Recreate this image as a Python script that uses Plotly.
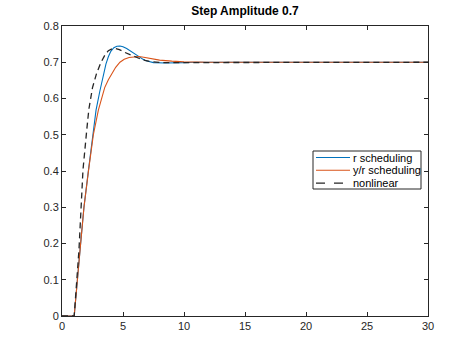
import plotly.graph_objects as go

# time points and series values
t_r = [0, 1, 1.5, 1.8, 2.18, 2.57, 2.79, 3.1, 3.4, 3.6, 3.8, 4.0, 4.25, 4.5, 4.75, 5.0, 5.3, 5.7, 6.0, 6.25, 6.6, 6.9, 7.5, 8.5, 10, 11, 30]
y_r = [0, 0, 0.19, 0.3, 0.405, 0.51, 0.568, 0.62, 0.665, 0.695, 0.715, 0.73, 0.74, 0.744, 0.745, 0.743, 0.738, 0.73, 0.723, 0.717, 0.709, 0.704, 0.699, 0.698, 0.699, 0.7, 0.7]

t_yr = [0, 1, 1.5, 1.8, 2.18, 2.57, 2.98, 3.25, 3.5, 3.8, 4.07, 4.4, 4.75, 5.1, 5.5, 5.9, 6.3, 6.7, 7.0, 7.5, 8.0, 9.0, 10, 12, 30]
y_yr = [0, 0, 0.19, 0.3, 0.403, 0.5, 0.568, 0.603, 0.63, 0.652, 0.668, 0.686, 0.70, 0.708, 0.713, 0.715, 0.716, 0.714, 0.712, 0.709, 0.706, 0.703, 0.701, 0.7, 0.7]

t_nl = [0, 1, 1.39, 1.72, 2.02, 2.2, 2.5, 2.84, 3.2, 3.52, 3.8, 4.1, 4.4, 4.7, 5.16, 5.7, 6.3, 6.8, 7.2, 8.3, 9.5, 11, 30]
y_nl = [0, 0, 0.182, 0.403, 0.51, 0.57, 0.63, 0.67, 0.70, 0.72, 0.732, 0.737, 0.738, 0.735, 0.727, 0.719, 0.711, 0.705, 0.702, 0.699, 0.699, 0.7, 0.7]

x_ticks = [0, 5, 10, 15, 20, 25, 30]
y_ticks = [0, 0.1, 0.2, 0.3, 0.4, 0.5, 0.6, 0.7, 0.8]

names = ["r scheduling", "y/r scheduling", "nonlinear"]
colors = ["#0072BD", "#D95319", "#262626"]
widths = [1.1, 1.1, 1.3]
dashes = ["solid", "solid", "6px,4px"]

fig = go.Figure()
for tx, ty, nm, c, w, d in zip([t_r, t_yr, t_nl], [y_r, y_yr, y_nl], names, colors, widths, dashes):
    fig.add_trace(go.Scatter(x=tx, y=ty, mode="lines", name=nm, showlegend=False,
                             line=dict(color=c, width=w, dash=d)))

axis_common = dict(showline=True, linecolor="#262626", linewidth=1, mirror="ticks",
                   ticks="inside", ticklen=4, tickcolor="#262626", showgrid=False,
                   zeroline=False, tickfont=dict(family="Liberation Sans, Arial", size=11, color="#262626"))

fig.update_xaxes(range=[0, 30], tickvals=x_ticks, **axis_common)
fig.update_yaxes(range=[0, 0.8], tickvals=y_ticks, **axis_common)

# custom MATLAB-like compact legend (pixel layout -> paper coords)
L, R, T, B = 62, 428, 26, 316
def px(xp):
    return (xp - L) / (R - L)
def py(yp):
    return (B - yp) / (B - T)

shapes = [dict(type="rect", xref="paper", yref="paper", x0=px(313), x1=px(421), y0=py(189), y1=py(151),
               line=dict(color="#262626", width=1), fillcolor="white", layer="above")]
annotations = []
for i, (nm, c, w, d) in enumerate(zip(names, colors, widths, dashes)):
    yy = 157.5 + 12.8 * i
    shapes.append(dict(type="line", xref="paper", yref="paper", x0=px(316), x1=px(350), y0=py(yy), y1=py(yy),
                       line=dict(color=c, width=w, dash=("dash" if d != "solid" else "solid")), layer="above"))
    annotations.append(dict(xref="paper", yref="paper", x=px(351), y=py(yy), text=nm, showarrow=False,
                            xanchor="left", yanchor="middle",
                            font=dict(family="Liberation Sans, Arial", size=11, color="#000000")))

fig.update_layout(
    width=474, height=355,
    margin=dict(l=62, r=46, t=26, b=39),
    paper_bgcolor="white", plot_bgcolor="white",
    title=dict(text="<b>Step Amplitude 0.7</b>", x=(62 + 428) / 2 / 474, xanchor="center",
               y=1 - 11 / 355, yanchor="middle",
               font=dict(family="Liberation Sans, Arial", size=12, color="#000000")),
    shapes=shapes, annotations=annotations,
    showlegend=False,
)

fig.write_html("out.html")
